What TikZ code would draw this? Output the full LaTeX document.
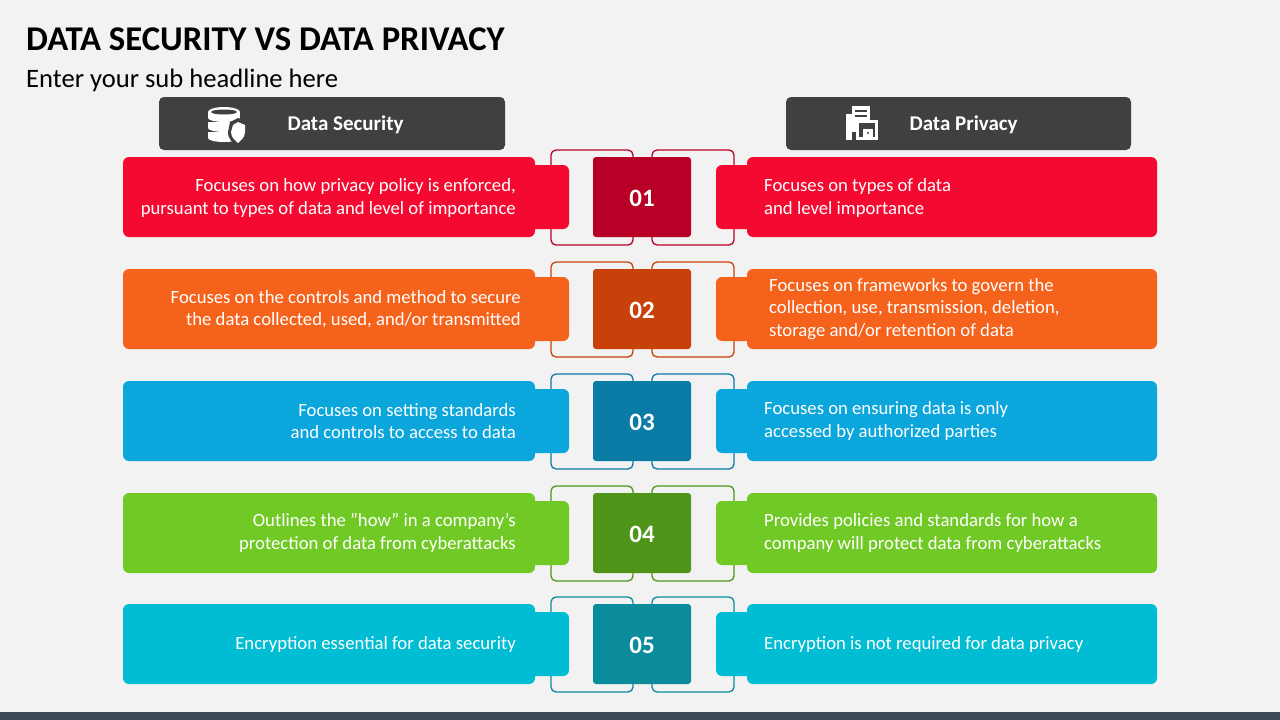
\documentclass[tikz,border=0pt]{standalone}
\usepackage{fontspec}
\setmainfont{Carlito}
\begin{document}
\begin{tikzpicture}[x=1pt,y=-1pt,
  txt/.style={text=white,font=\fontsize{18.7}{22.5}\selectfont,inner sep=0pt},
  num/.style={text=white,font=\fontsize{25}{25}\selectfont\bfseries},
  hdr/.style={text=white,font=\fontsize{21}{22}\selectfont\bfseries}]
\definecolor{bg}{HTML}{F2F2F2}
\definecolor{hd}{HTML}{404040}
\definecolor{cA}{HTML}{F40A31}\definecolor{nA}{HTML}{B80026}
\definecolor{cB}{HTML}{F5621C}\definecolor{nB}{HTML}{C8410A}
\definecolor{cC}{HTML}{0AA6DC}\definecolor{nC}{HTML}{0A7BA5}
\definecolor{cD}{HTML}{70C924}\definecolor{nD}{HTML}{4E951A}
\definecolor{cE}{HTML}{00BDD3}\definecolor{nE}{HTML}{0A8C9C}
\definecolor{bar}{HTML}{3E4756}
\fill[bg] (0,0) rectangle (1280,720);
\useasboundingbox (0,0) rectangle (1280,720);
\fill[bar] (0,712) rectangle (1280,720);
\node[anchor=west,font=\fontsize{34.7}{35}\selectfont\bfseries,inner sep=0] (title) at (26,39) {DATA SECURITY VS DATA PRIVACY};
\node[anchor=west,font=\fontsize{26.6}{27}\selectfont,inner sep=0] (sub) at (26,80) {Enter your sub headline here};
% headers
\fill[hd,rounded corners=5pt] (159,150) -- (159,97) -- (505,97) -- (505,150) -- cycle;
\fill[hd,rounded corners=5pt] (786,150) -- (786,97) -- (1131,97) -- (1131,150) -- cycle;
\node[hdr,anchor=west] (hl) at (284,125) {Data Security};
\node[hdr,anchor=west] (hr) at (906,125) {Data Privacy};
% database icon
\begin{scope}[white]
\foreach \yy in {132,122,112}{\fill (208,\yy) rectangle (240,\yy+6);\fill (224,\yy+6) ellipse (16 and 4);}
\fill (224,112) ellipse (16 and 5);
\fill[hd] (224,112) ellipse (13 and 2.5);
\fill[hd] (230,122) -- (238,118) -- (248,122) -- (248,132) .. controls (248,140) and (240,144) .. (238,146) .. controls (234,144) and (228,140) .. (228,132) -- cycle;
\fill (233,125) -- (238,122) -- (245,125) -- (245,132) .. controls (245,138) and (240,141) .. (238,143) .. controls (236,141) and (231,138) .. (231,132) -- cycle;
% document icon
\fill (852,106) rectangle (870,132);
\fill[hd] (855,110) rectangle (867,112);\fill[hd] (855,115) rectangle (867,117);
\fill (846,114) rectangle (852,140);
\fill (856,120) rectangle (878,140);
\fill[hd] (859,123) rectangle (875,137);
\draw[white,line width=1.5pt] (865,129) arc (180:0:3.5 and 4);
\fill (863,129) rectangle (873,137);
\fill[hd] (868,133) circle (1.2);
\end{scope}
% rows
\foreach \i/\c/\n/\y in {1/cA/nA/157,2/cB/nB/269,3/cC/nC/381,4/cD/nD/493,5/cE/nE/604}{
  \draw[\n,line width=1.3pt,rounded corners=5pt] (551,\y-7) rectangle (633,\y+88);
  \draw[\n,line width=1.3pt,rounded corners=5pt] (652,\y-7) rectangle (734,\y+88);
  \fill[\c,rounded corners=6pt] (123,\y) rectangle (535,\y+80);
  \fill[\c,rounded corners=6pt] (520,\y+8) rectangle (569,\y+72);
  \fill[\c,rounded corners=6pt] (747,\y) rectangle (1157,\y+80);
  \fill[\c,rounded corners=6pt] (716,\y+8) rectangle (762,\y+72);
  \fill[\n,rounded corners=3pt] (593,\y) rectangle (691,\y+80);
  \node[num] (n\i) at (642,\y+41) {0\i};
}
\node[txt,anchor=east,align=right] (l1) at (516,198) {Focuses on how privacy policy is enforced,\\pursuant to types of data and level of importance};
\node[txt,anchor=west,align=left] (r1) at (764,198) {Focuses on types of data\\and level importance};
\node[txt,anchor=east,align=right] (l2) at (521,309) {Focuses on the controls and method to secure\\the data collected, used, and/or transmitted};
\node[txt,anchor=west,align=left] (r2) at (769,309) {Focuses on frameworks to govern the\\collection, use, transmission, deletion,\\storage and/or retention of data};
\node[txt,anchor=east,align=right] (l3) at (516,421) {Focuses on setting standards\\and controls to access to data};
\node[txt,anchor=west,align=left] (r3) at (764,421) {Focuses on ensuring data is only\\accessed by authorized parties};
\node[txt,anchor=east,align=right] (l4) at (516,533) {Outlines the \char34 how\char34\ in a company\char39 s\\protection of data from cyberattacks};
\node[txt,anchor=west,align=left] (r4) at (764,533) {Provides policies and standards for how a\\company will protect data from cyberattacks};
\node[txt,anchor=east,align=right] (l5) at (516,645) {Encryption essential for data security};
\node[txt,anchor=west,align=left] (r5) at (764,645) {Encryption is not required for data privacy};
\end{tikzpicture}
\end{document}
